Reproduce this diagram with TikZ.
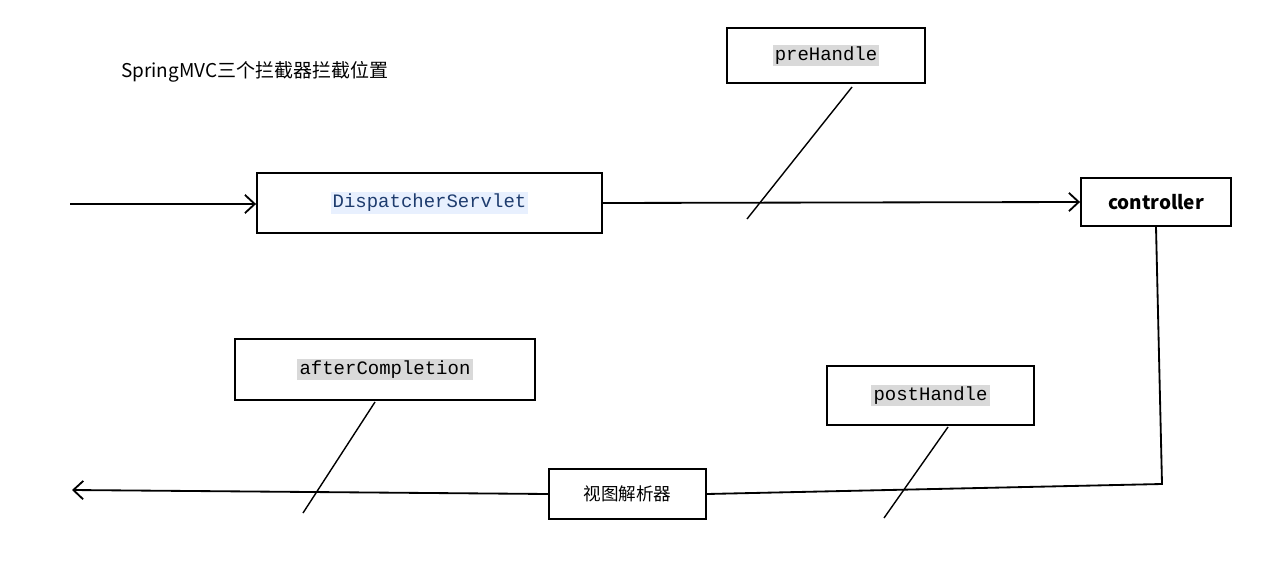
\documentclass[tikz,border=0pt]{standalone}
\usepackage{fontspec}
\setmainfont{Liberation Sans}
\setmonofont{Liberation Mono}
\newfontfamily\cjk{Noto Sans CJK SC}
\usetikzlibrary{arrows.meta}
\definecolor{hlgray}{RGB}{217,217,217}
\definecolor{hlblue}{RGB}{232,240,254}
\definecolor{codeblue}{RGB}{30,60,110}
\begin{document}
\begin{tikzpicture}[x=0.05cm,y=-0.05cm,line width=2.6pt,
    box/.style={draw,rectangle,inner sep=0pt},
    flow/.style={-{Straight Barb[length=14pt,width=26pt,line width=2.6pt]}}]
    	% border
    	\useasboundingbox (0,0) rectangle (1269,568);
    	% title
    	\node[anchor=west,font=\fontsize{27}{30}\selectfont\cjk] (title) at (118,72) {SpringMVC三个拦截器拦截位置};
    	% boxes
    	\node[box,minimum width=345*0.05cm,minimum height=60*0.05cm] (ds) at (429.5,203)
    	    {\colorbox{hlblue}{\color{codeblue}\fontsize{27}{30}\selectfont\ttfamily DispatcherServlet}};
    	\node[box,minimum width=150*0.05cm,minimum height=48*0.05cm,font=\fontsize{27}{30}\selectfont\bfseries\cjk] (ctrl) at (1156,202) {controller};
    	\node[box,minimum width=198*0.05cm,minimum height=55*0.05cm] (pre) at (826,55.5)
    	    {\colorbox{hlgray}{\fontsize{27}{30}\selectfont\ttfamily preHandle}};
    	\node[box,minimum width=300*0.05cm,minimum height=61*0.05cm] (after) at (385,369.5)
    	    {\colorbox{hlgray}{\fontsize{27}{30}\selectfont\ttfamily afterCompletion}};
    	\node[box,minimum width=207*0.05cm,minimum height=59*0.05cm] (post) at (930.5,395.5)
    	    {\colorbox{hlgray}{\fontsize{27}{30}\selectfont\ttfamily postHandle}};
    	\node[box,minimum width=157*0.05cm,minimum height=50*0.05cm,font=\fontsize{25}{30}\selectfont\cjk] (view) at (627.5,494) {视图解析器};
    	% flow
    	\coordinate (start) at (70,204);
    	\coordinate (corner) at (1162,484);
    	\coordinate (finish) at (72,490);
    	\draw[flow] (start) -- (ds.west |- start);
    	\draw[flow] (ds.east) -- (ctrl.west);
    	\draw (ctrl.south) -- (corner) -- (view.east);
    	\draw[flow] (view.west) -- (finish);
    	% interceptor marks
    	\coordinate (m1) at (747,219);
    	\coordinate (m2) at (303,513);
    	\coordinate (m3) at (884,518);
    	\draw[line width=2pt] (852,87) -- (m1);
    	\draw[line width=2pt] (375,402) -- (m2);
    	\draw[line width=2pt] (948,427) -- (m3);
\end{tikzpicture}
\end{document}
